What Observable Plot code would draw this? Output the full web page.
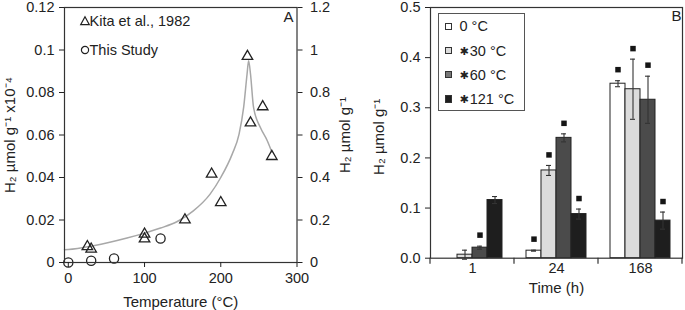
<!DOCTYPE html>
<html><head><meta charset="utf-8">
<script src="https://cdn.jsdelivr.net/npm/d3@7"></script>
<script src="https://cdn.jsdelivr.net/npm/@observablehq/plot@0.6"></script>
<style>
body{margin:0;background:#fff;}
#wrap{position:relative;width:685px;height:310px;font-family:"Liberation Sans",Arial,Helvetica,sans-serif;color:#222;}
#wrap > svg{position:absolute;top:0;overflow:visible;background:transparent;}
.lg{position:absolute;font-size:14.5px;line-height:16px;white-space:nowrap;color:#222;}
.lg .star{font-size:11px;font-family:"DejaVu Sans",sans-serif;position:relative;top:-1px;margin-right:1px;}
.box{position:absolute;border:1px solid #555;background:#fff;box-sizing:border-box;}
</style></head><body><div id="wrap"></div>
<script>
// ---------- Panel A data ----------
const kitaTemp = [25, 30, 100, 100, 153, 188, 200, 235, 239, 255, 267];
const kitaH2   = [0.0075, 0.0063, 0.0134, 0.0111, 0.0201, 0.0416, 0.0282, 0.0970, 0.0657, 0.0733, 0.0499];
const studyTemp = [0, 30, 60, 121];
const studyH2   = [0, 0.0008, 0.0019, 0.0113];
const fitTemp = [-5, 0, 33, 77, 99, 121, 143, 164, 186, 200, 215, 224, 230, 234.5, 236.5, 239, 243, 252, 261, 267];
const fitH2   = [0.0060, 0.0061, 0.0079, 0.0115, 0.0137, 0.0162, 0.0193, 0.0243, 0.0322, 0.0400, 0.0510, 0.0604, 0.0730, 0.0887, 0.0950, 0.0887, 0.0730, 0.0635, 0.0573, 0.0520];
const xTicksA = [0, 100, 200, 300];
const yTicksA = [0, 0.02, 0.04, 0.06, 0.08, 0.10, 0.12];

// ---------- Panel B data ----------
const times = ["1", "24", "168"];
const temps = ["0 °C", "30 °C", "60 °C", "121 °C"];
const h2_0   = [0, 0.015, 0.348];
const h2_30  = [0.007, 0.175, 0.337];
const h2_60  = [0.021, 0.240, 0.316];
const h2_121 = [0.116, 0.088, 0.075];
const err_0   = [0, 0.001, 0.006];
const err_30  = [0.009, 0.010, 0.060];
const err_60  = [0.003, 0.008, 0.047];
const err_121 = [0.007, 0.010, 0.017];
const sig_0   = [null, 0.038, 0.376];
const sig_30  = [null, 0.206, 0.418];
const sig_60  = [0.046, 0.269, 0.385];
const sig_121 = [null, 0.119, 0.113];
const yTicksB = [0, 0.1, 0.2, 0.3, 0.4, 0.5];

const FONT = '"Liberation Sans",Arial,Helvetica,sans-serif';
const wrap = document.getElementById("wrap");
const C = {textAnchor: "middle", lineAnchor: "middle", fontSize: 15, fill: "#222"};

// ---------- Panel A ----------
const kita = kitaTemp.map((t, i) => ({t, v: kitaH2[i]}));
const study = studyTemp.map((t, i) => ({t, v: studyH2[i]}));
const fit = fitTemp.map((t, i) => ({t, v: fitH2[i]}));

const chartA = Plot.plot({
  width: 360, height: 310,
  marginLeft: 64, marginRight: 63.5, marginTop: 7, marginBottom: 48,
  style: {fontFamily: FONT, fontSize: "14.5px", color: "#222", background: "transparent", overflow: "visible"},
  x: {domain: [-5, 300]},
  y: {domain: [0, 0.12]},
  marks: [
    Plot.line(fit, {x: "t", y: "v", curve: "monotone-x", stroke: "#a8a8a8", strokeWidth: 1.5}),
    Plot.dot(kita, {x: "t", y: "v", symbol: "triangle", r: 3.9, stroke: "#222", strokeWidth: 1.3, fill: "none"}),
    Plot.dot(study, {x: "t", y: "v", symbol: "circle", r: 4.6, stroke: "#222", strokeWidth: 1.3, fill: "none"}),
    Plot.frame({stroke: "#333", strokeWidth: 1.2}),
    Plot.axisX({ticks: xTicksA, tickSize: 5, tickPadding: 5, label: null}),
    Plot.axisY({anchor: "left", ticks: yTicksA, tickFormat: d => String(+d.toFixed(2)), tickSize: 5, tickPadding: 5, label: null}),
    Plot.axisY({anchor: "right", ticks: yTicksA, tickFormat: d => String(+(d * 10).toFixed(1)), tickSize: 5, tickPadding: 8, label: null}),
    Plot.text(["Temperature (°C)"], {...C, frameAnchor: "bottom", dy: 40}),
    Plot.text(["H₂ µmol g⁻¹ x10⁻⁴"], {...C, frameAnchor: "left", dx: -54, rotate: -90}),
    Plot.text(["H₂ µmol g⁻¹"], {...C, frameAnchor: "right", dx: 48.5, rotate: -90}),
    Plot.text(["A"], {...C, frameAnchor: "top-right", dx: -8.5, dy: 10})
  ]
});
chartA.style.left = "0px";
wrap.appendChild(chartA);

// ---------- Panel B ----------
const vals = [h2_0, h2_30, h2_60, h2_121];
const errs = [err_0, err_30, err_60, err_121];
const sigs = [sig_0, sig_30, sig_60, sig_121];
const rows = [];
times.forEach((time, i) => temps.forEach((temp, j) => rows.push({time, temp, h2: vals[j][i], err: errs[j][i], sig: sigs[j][i]})));
const withErr = rows.filter(d => d.err > 0);
const withSig = rows.filter(d => d.sig != null);

const chartB = Plot.plot({
  width: 345, height: 310,
  marginLeft: 89, marginRight: 2, marginTop: 7, marginBottom: 52.3,
  style: {fontFamily: FONT, fontSize: "14.5px", color: "#222", background: "transparent", overflow: "visible"},
  fx: {domain: times, padding: 0, label: null},
  x: {domain: temps, paddingInner: 0, paddingOuter: 0.7, axis: null},
  y: {domain: [0, 0.5]},
  color: {type: "ordinal", domain: temps, range: ["#ffffff", "#dcdcdc", "#4b4b4b", "#1e1e1e"]},
  marks: [
    Plot.barY(rows, {fx: "time", x: "temp", y: "h2", fill: "temp", stroke: "#222", strokeWidth: 1}),
    Plot.ruleX(withErr, {fx: "time", x: "temp", y1: d => d.h2 - d.err, y2: d => d.h2 + d.err, stroke: "#333", strokeWidth: 1.1}),
    Plot.tickY(withErr, {fx: "time", x: "temp", y: d => d.h2 + d.err, insetLeft: 5, insetRight: 5, stroke: "#333", strokeWidth: 1.1}),
    Plot.tickY(withErr, {fx: "time", x: "temp", y: d => d.h2 - d.err, insetLeft: 5, insetRight: 5, stroke: "#333", strokeWidth: 1.1}),
    Plot.dot(withSig, {fx: "time", x: "temp", y: "sig", symbol: "square", r: 3.1, fill: "#151515"}),
    Plot.frame({facet: "super", stroke: "#333", strokeWidth: 1.2}),
    Plot.axisY({ticks: yTicksB, tickFormat: d3.format(".1f"), tickSize: 5, tickPadding: 5, label: null}),
    Plot.axisFx({anchor: "bottom", tickSize: 0, tickPadding: 5, label: null}),
    Plot.text(["Time (h)"], {...C, facet: "super", frameAnchor: "bottom", dy: 29.5}),
    Plot.text(["H₂ µmol g⁻¹"], {...C, facet: "super", frameAnchor: "left", dx: -51, dy: 4, rotate: -90}),
    Plot.text(["B"], {...C, facet: "super", frameAnchor: "top-right", dx: -6, dy: 9})
  ]
});
chartB.style.left = "340px";
wrap.appendChild(chartB);

// group-boundary ticks on the time axis, from Plot's own fx / y scales
(function () {
  const fxs = chartB.scale("fx");
  const ys = chartB.scale("y");
  const y0 = ys.apply(0);
  const edges = times.map(t => fxs.apply(t));
  edges.push(fxs.apply(times[times.length - 1]) + fxs.bandwidth);
  const svg = d3.select(chartB);
  svg.append("g").attr("stroke", "#333").attr("stroke-width", 1.2)
    .selectAll("line").data(edges).join("line")
    .attr("x1", d => d).attr("x2", d => d).attr("y1", y0).attr("y2", y0 + 6);
})();

// ---------- Legends ----------
function addLegendA() {
  const items = [
    {label: "Kita et al., 1982", sym: "tri", cy: 21},
    {label: "This Study", sym: "circ", cy: 50}
  ];
  items.forEach(it => {
    const d = document.createElement("div");
    d.className = "lg";
    d.style.left = "89.5px";
    d.style.top = (it.cy - 8) + "px";
    d.textContent = it.label;
    wrap.appendChild(d);
    const s = d3.create("svg").attr("width", 10).attr("height", 10)
      .style("position", "absolute").style("left", "79.5px").style("top", (it.cy - 5) + "px").style("overflow", "visible");
    if (it.sym === "tri") s.append("path").attr("d", "M5,0.8L9.3,8.6L0.7,8.6Z").attr("fill", "none").attr("stroke", "#222").attr("stroke-width", 1.2);
    else s.append("circle").attr("cx", 5).attr("cy", 5).attr("r", 3.6).attr("fill", "none").attr("stroke", "#222").attr("stroke-width", 1.2);
    wrap.appendChild(s.node());
  });
}
function addLegendB() {
  const box = document.createElement("div");
  box.className = "box";
  box.style.left = "437.5px"; box.style.top = "13px";
  box.style.width = "87px"; box.style.height = "97.5px";
  wrap.appendChild(box);
  const sw = ["#ffffff", "#dcdcdc", "#777777", "#1e1e1e"];
  const star = [false, true, true, true];
  temps.forEach((t, i) => {
    const cy = 26.3 + i * 24.2;
    const s = document.createElement("div");
    s.style.cssText = `position:absolute;left:444.5px;top:${cy - 3.8}px;width:7.5px;height:7.5px;background:${sw[i]};border:1px solid #333;box-sizing:border-box;`;
    wrap.appendChild(s);
    const d = document.createElement("div");
    d.className = "lg";
    d.style.left = "459.5px";
    d.style.top = (cy - 8) + "px";
    if (star[i]) {
      const st = document.createElement("span");
      st.className = "star";
      st.textContent = "✱";
      d.appendChild(st);
    }
    d.appendChild(document.createTextNode(t));
    wrap.appendChild(d);
  });
}
addLegendA();
addLegendB();
</script>
</body></html>
